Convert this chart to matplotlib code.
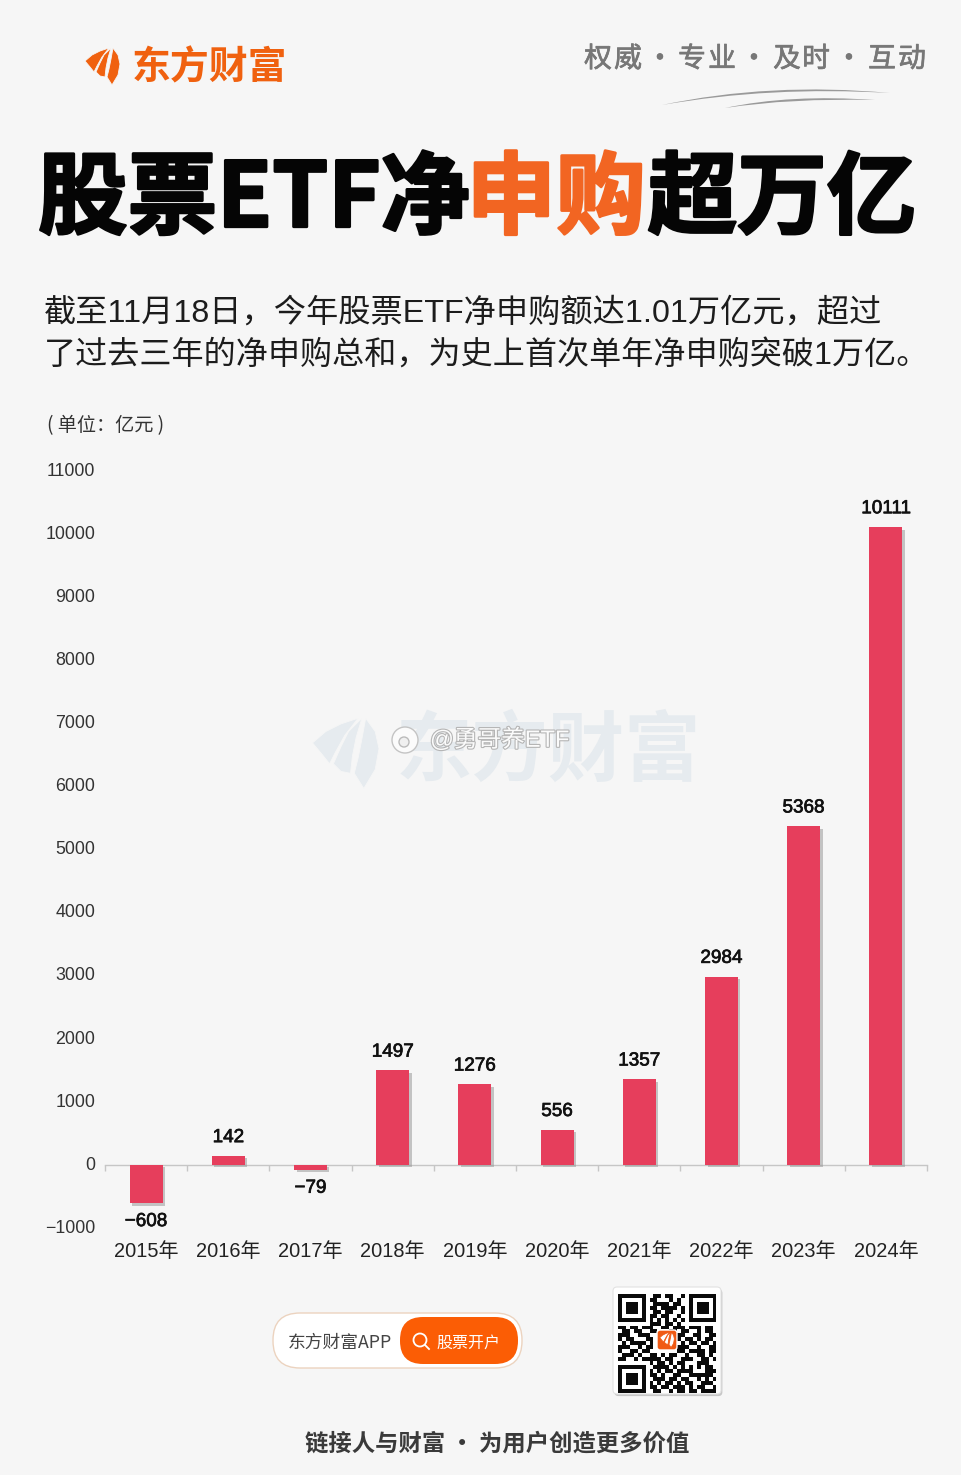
import matplotlib
matplotlib.use("Agg")
import matplotlib.pyplot as plt
import matplotlib.patheffects as pe
from matplotlib.patches import Polygon, FancyBboxPatch, PathPatch, Circle, Rectangle
from matplotlib.path import Path
from matplotlib.transforms import ScaledTranslation

years = ['2015年', '2016年', '2017年', '2018年', '2019年',
         '2020年', '2021年', '2022年', '2023年', '2024年']
values = [-608, 142, -79, 1497, 1276, 556, 1357, 2984, 5368, 10111]
yticks = [-1000, 0, 1000, 2000, 3000, 4000, 5000, 6000, 7000, 8000, 9000, 10000, 11000]

W, H = 962, 1475
BG = '#f6f6f6'
ORANGE = '#f0610f'
CJK = ['Noto Sans CJK SC', 'DejaVu Sans']
NUM = ['Liberation Sans', 'Noto Sans CJK SC']
plt.rcParams['font.family'] = CJK
plt.rcParams['axes.unicode_minus'] = True

fig = plt.figure(figsize=(W / 100, H / 100), dpi=100, facecolor=BG)

# page overlay in pixel coordinates
bg = fig.add_axes([0, 0, 1, 1], zorder=0)
bg.set_xlim(0, W)
bg.set_ylim(H, 0)
bg.axis('off')


def flame(ax, dx=0, dy=0, s=1.0, color=ORANGE, edge=BG):
    blades = [
        [(85, 61), (92, 55), (100, 51), (109, 48), (102, 57), (97, 66), (94, 72), (90, 67)],
        [(111, 48), (108, 58), (106, 68), (105, 77), (100, 76), (96, 72), (100, 63), (104, 55)],
        [(113, 48), (118, 55), (120, 64), (118, 75), (112, 85), (107, 77), (109, 69), (111, 59)],
    ]
    for b in blades:
        pts = [(dx + s * x, dy + s * y) for x, y in b]
        ax.add_patch(Polygon(pts, closed=True, fc=color, ec=edge, lw=0.6, joinstyle='round'))


# header
flame(bg)
bg.text(132, 68, '东方财富', color=ORANGE, fontsize=28, fontweight='bold', ha='left', va='center')

motto = [('权', 598), ('威', 628), ('·', 660), ('专', 692), ('业', 722), ('·', 754),
         ('及', 787), ('时', 816), ('·', 849), ('互', 882), ('动', 912)]
for ch, x in motto:
    bg.text(x, 59, ch, color='#777777', fontsize=20, ha='center', va='center',
            path_effects=[pe.withStroke(linewidth=0.5, foreground='#777777')])

swoosh1 = Path([(662, 105), (770, 82), (890, 93), (770, 86), (662, 105)],
               [Path.MOVETO, Path.CURVE3, Path.CURVE3, Path.CURVE3, Path.CURVE3])
swoosh2 = Path([(725, 108), (790, 94), (875, 100), (790, 98), (725, 108)],
               [Path.MOVETO, Path.CURVE3, Path.CURVE3, Path.CURVE3, Path.CURVE3])
bg.add_patch(PathPatch(swoosh1, fc='#9a9a9a', ec='none'))
bg.add_patch(PathPatch(swoosh2, fc='#9a9a9a', ec='none'))

# title, three pieces side by side
renderer = fig.canvas.get_renderer()
x = 38
for piece, col, nudge in [('股票ETF净', '#050505', -4), ('申购', '#f26522', 2), ('超万亿', '#050505', 0)]:
    t = bg.text(x, 200, piece, color=col, fontsize=64.5, fontweight='bold', ha='left', va='center',
                path_effects=[pe.withStroke(linewidth=2, foreground=col)])
    x = t.get_window_extent(renderer).x1 + nudge

bg.text(44, 313, '截至11月18日，今年股票ETF净申购额达1.01万亿元，超过', color='#1c1c1c',
        fontsize=23.2, family=NUM, ha='left', va='center')
bg.text(44, 355, '了过去三年的净申购总和，为史上首次单年净申购突破1万亿。', color='#1c1c1c',
        fontsize=23.1, family=NUM, ha='left', va='center')
bg.text(47, 426, '( 单位：亿元 )', color='#333333', fontsize=13.8, ha='left', va='center')

# watermark
flame(bg, dx=151, dy=627, s=1.9, color='#e6ebef')
bg.text(396, 752, '东方财富', color='#e6ebef', fontsize=55, fontweight='bold', ha='left', va='center')
bg.add_patch(Circle((405, 740), 13, fc='#fbfbfb', ec='#c4c4c4', lw=1.0, zorder=3))
bg.add_patch(Circle((404, 742), 5, fc='#f0f0f0', ec='#bbbbbb', lw=1.0, zorder=3))
bg.text(430, 740, '@勇哥养ETF', color='#fbfbfb', fontsize=17, family=NUM, ha='left', va='center', zorder=3,
        path_effects=[pe.withStroke(linewidth=1.6, foreground='#b5b5b5')])

# chart
ax = fig.add_axes([105 / W, 1 - 1228 / H, (927 - 105) / W, (1228 - 471) / H], zorder=1)
ax.patch.set_alpha(0)
ax.set_xlim(-0.5, 9.5)
ax.set_ylim(-1000, 11000)
for s in ['top', 'right', 'left']:
    ax.spines[s].set_visible(False)
ax.spines['bottom'].set_position(('data', 0))
ax.spines['bottom'].set_color('#c6c6c6')
ax.spines['bottom'].set_linewidth(1)

bars = ax.bar(range(len(years)), values, width=0.40, color='#e63e5c', zorder=3)
for b in bars:
    b.set_path_effects([pe.SimplePatchShadow(offset=(1.8, -1.8), shadow_rgbFace='#999999', alpha=0.55), pe.Normal()])

ax.set_xticks(range(len(years)))
ax.set_xticklabels(years, fontsize=14.4, family=NUM, color='#222222')
ax.set_xticks([i - 0.5 for i in range(len(years) + 1)], minor=True)
ax.tick_params(axis='x', which='major', length=0, pad=55.5)
ax.tick_params(axis='x', which='minor', length=4, width=1, color='#c6c6c6')

ax.set_yticks(yticks)
ax.set_yticklabels([str(v).replace('-', '\u2212') for v in yticks], fontsize=12.8, family=NUM, color='#333333')
ax.tick_params(axis='y', length=0, pad=7)
# labels sit a touch above their ticks in the original
lift = ScaledTranslation(0, 1.2 / 72, fig.dpi_scale_trans)
for lab in ax.get_yticklabels():
    lab.set_transform(lab.get_transform() + lift)

for i, v in enumerate(values):
    label = str(v).replace('-', '\u2212')
    off = 13.2 if v >= 0 else -13.2
    ax.annotate(label, (i, v), xytext=(0, off), textcoords='offset points', ha='center', va='center',
                fontsize=13.6, family=NUM, color='#111111', zorder=4,
                path_effects=[pe.withStroke(linewidth=0.5, foreground='#111111')])

# footer button
bg.add_patch(FancyBboxPatch((273, 1313), 249, 55, boxstyle='round,pad=0,rounding_size=27',
                            fc='white', ec='#ecd3bf', lw=1))
bg.add_patch(FancyBboxPatch((400, 1317), 118, 47, boxstyle='round,pad=0,rounding_size=23',
                            fc='#fb5d05', ec='none'))
bg.text(288, 1343, '东方财富APP', color='#444444', fontsize=12.8, ha='left', va='center')
bg.text(436, 1343, '股票开户', color='white', fontsize=11.5, ha='left', va='center')
bg.add_patch(Circle((420, 1340), 6.5, fc='none', ec='white', lw=1.3))
bg.plot([425, 429], [1345, 1349], color='white', lw=1.3)

# qr code
qr_rows = [
    '1111111001101100101111111',
    '1000001011000101001000001',
    '1011101001111011001011101',
    '1011101011011110101011101',
    '1011101001101100101011101',
    '1000001011011001001000001',
    '1111111010101010101111111',
    '0000000011101101000000000',
    '1101101110011011101110110',
    '0110110011000110110010110',
    '1110011100000001100110011',
    '1011000110000001011010110',
    '0101111010000000101101101',
    '1110010110000001110010011',
    '1001101100000001101111011',
    '0111010011010110010011010',
    '1100101111101100111001101',
    '0000000010110101100011100',
    '1111111001111010101010110',
    '1000001010101101111000111',
    '1011101011010011001111110',
    '1011101001110110110010101',
    '1011101010101101011001110',
    '1000001011011011101011001',
    '1111111001100101101101111',
]
bg.add_patch(FancyBboxPatch((613, 1287), 108, 107, boxstyle='round,pad=0,rounding_size=4',
                            fc='white', ec='#e2e2e2', lw=0.8,
                            path_effects=[pe.SimplePatchShadow(offset=(1, -1.5), shadow_rgbFace='#999999', alpha=0.5), pe.Normal()]))
cell = 98.5 / 25
for r, row in enumerate(qr_rows):
    for c, v in enumerate(row):
        if v == '1':
            bg.add_patch(Rectangle((618 + c * cell, 1294 + r * cell), cell, cell, fc='#0a0a0a', ec='none'))
bg.add_patch(FancyBboxPatch((657, 1330), 20, 20, boxstyle='round,pad=0,rounding_size=3',
                            fc='#f05a14', ec='white', lw=1))
flame(bg, dx=624, dy=1312, s=0.42, color='white', edge='#f05a14')

bg.text(497, 1444, '链接人与财富 · 为用户创造更多价值', color='#3a3a3a', fontsize=16.8,
        fontweight='bold', ha='center', va='center')

fig.savefig('out.png', dpi=100, facecolor=BG)
